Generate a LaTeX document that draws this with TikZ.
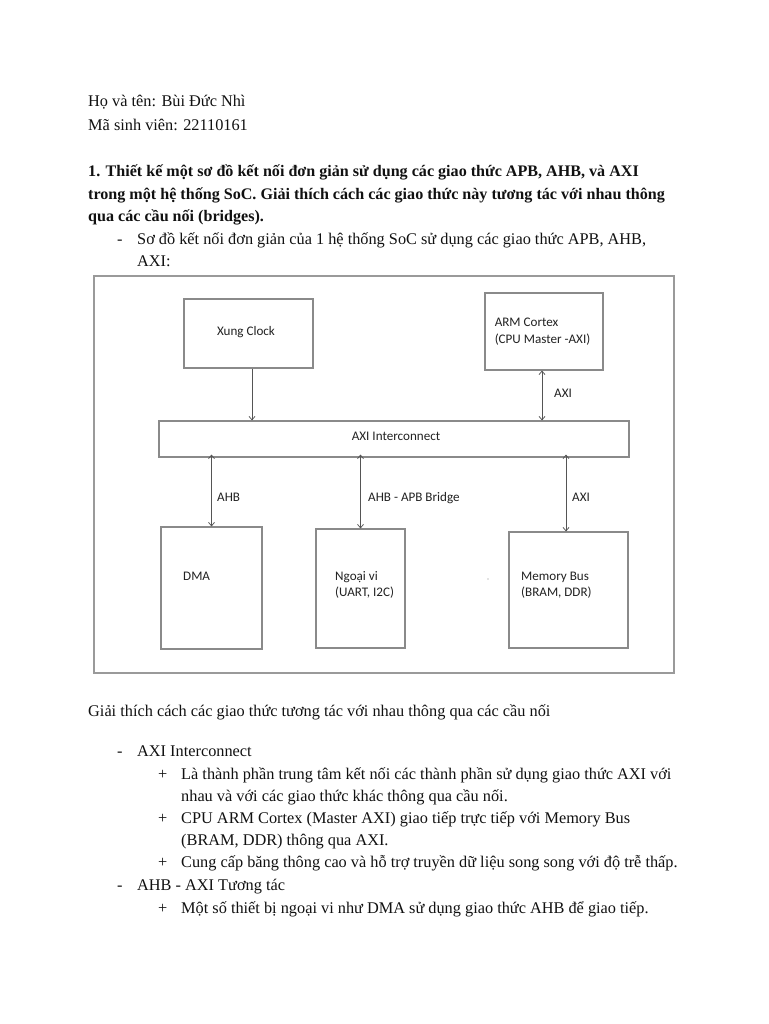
\documentclass[tikz,border=0pt]{standalone}
\usepackage{fontspec}
\setmainfont{Liberation Serif}
\newfontfamily\calibri{Carlito}
\usetikzlibrary{arrows.meta}
\definecolor{boxgray}{HTML}{8A8A8A}
\definecolor{framegray}{HTML}{9A9A9A}
\definecolor{arrowgray}{HTML}{555555}
\definecolor{txt}{HTML}{111111}
\definecolor{dtxt}{HTML}{222222}
\tikzset{
  body/.style={anchor=base west, inner sep=0pt, text=txt, font=\fontsize{16.3}{19}\selectfont},
  bodyb/.style={body, font=\fontsize{16.1}{19}\selectfont\bfseries},
  box/.style={draw=boxgray, line width=1.1pt, inner sep=0pt},
  dlab/.style={inner sep=0pt, text=dtxt, font=\calibri\fontsize{13.1}{16.5}\selectfont},
  dlabw/.style={dlab, anchor=base west},
  arr/.style={draw=arrowgray, line width=0.75pt, -{Straight Barb[length=3.5pt,width=6pt]}},
  darr/.style={draw=arrowgray, line width=0.75pt, {Straight Barb[length=3.5pt,width=6pt]}-{Straight Barb[length=3.5pt,width=6pt]}}
}
\begin{document}
\begin{tikzpicture}[x=1pt,y=-1pt]
\useasboundingbox[fill=white] (0,0) rectangle (768,1024);

% header text
\node[body] (t1) at (88,107) {Họ và tên: Bùi Đức Nhì};
\node[body] (t2) at (88,131) {Mã sinh viên: 22110161};
\node[bodyb] (t3) at (88,177) {1. Thiết kế một sơ đồ kết nối đơn giản sử dụng các giao thức APB, AHB, và AXI};
\node[bodyb] (t4) at (88,200) {trong một hệ thống SoC. Giải thích cách các giao thức này tương tác với nhau thông};
\node[bodyb] (t5) at (88,222) {qua các cầu nối (bridges).};
\node[body] (d1) at (117,244) {-};
\node[body] (t6) at (137,244) {Sơ đồ kết nối đơn giản của 1 hệ thống SoC sử dụng các giao thức APB, AHB,};
\node[body] (t7) at (137,266) {AXI:};

% diagram frame
\node[draw=framegray, line width=1.6pt, inner sep=0pt, minimum width=580, minimum height=397] (frame) at (384,474.5) {};

% boxes
\node[box, minimum width=129, minimum height=69] (clock) at (248.5,333.5) {};
\node[dlab] (clockt) at (246,332) {Xung Clock};
\node[box, minimum width=118, minimum height=77] (arm) at (544,331.5) {};
\node[dlab, align=left] (armt) at (542.5,331.5) {ARM Cortex\\(CPU Master -AXI)};
\node[box, minimum width=470, minimum height=36] (ic) at (394,439) {};
\node[dlab] (ict) at (396,436) {AXI Interconnect};
\node[box, minimum width=101, minimum height=122] (dma) at (211.5,588) {};
\node[dlabw] (dmat) at (183,580) {DMA};
\node[box, minimum width=89, minimum height=119] (ngoai) at (360.5,588.5) {};
\node[dlabw] (ngt1) at (335,580) {Ngoại vi};
\node[dlabw] (ngt2) at (335,596.5) {(UART, I2C)};
\node[box, minimum width=119, minimum height=116] (mem) at (568.5,590) {};
\node[dlabw] (memt1) at (521,580) {Memory Bus};
\node[dlabw] (memt2) at (521,596.5) {(BRAM, DDR)};
\fill[boxgray] (488,579) circle (0.6);

% connectors
\draw[arr] ([xshift=3.5]clock.south) -- ([xshift=3.5]clock.south |- ic.north);
\draw[darr] ([xshift=-2]arm.south) -- ([xshift=-2]arm.south |- ic.north);
\draw[darr] ([yshift=3]dma.north |- ic.south) -- (dma.north);
\draw[darr] ([yshift=3]ngoai.north |- ic.south) -- (ngoai.north);
\draw[darr] ([xshift=-2.5,yshift=3]mem.north |- ic.south) -- ([xshift=-2.5]mem.north);

% connector labels
\node[dlabw] (lab1) at (554,397) {AXI};
\node[dlabw] (lab2) at (217,501) {AHB};
\node[dlabw] (lab3) at (368,501) {AHB - APB Bridge};
\node[dlabw] (lab4) at (572,501) {AXI};

% explanation text
\node[body] (e0) at (88,716) {Giải thích cách các giao thức tương tác với nhau thông qua các cầu nối};
\node[body] (e1d) at (117,756) {-};
\node[body] (e1) at (137,756) {AXI Interconnect};
\node[body] (e2p) at (158,779) {+};
\node[body] (e2) at (181,779) {Là thành phần trung tâm kết nối các thành phần sử dụng giao thức AXI với};
\node[body] (e3) at (181,801) {nhau và với các giao thức khác thông qua cầu nối.};
\node[body] (e4p) at (158,823) {+};
\node[body] (e4) at (181,823) {CPU ARM Cortex (Master AXI) giao tiếp trực tiếp với Memory Bus};
\node[body] (e5) at (181,845) {(BRAM, DDR) thông qua AXI.};
\node[body] (e6p) at (158,867) {+};
\node[body] (e6) at (181,867) {Cung cấp băng thông cao và hỗ trợ truyền dữ liệu song song với độ trễ thấp.};
\node[body] (e7d) at (117,890) {-};
\node[body] (e7) at (137,890) {AHB - AXI Tương tác};
\node[body] (e8p) at (158,913) {+};
\node[body] (e8) at (181,913) {Một số thiết bị ngoại vi như DMA sử dụng giao thức AHB để giao tiếp.};
\end{tikzpicture}
\end{document}
